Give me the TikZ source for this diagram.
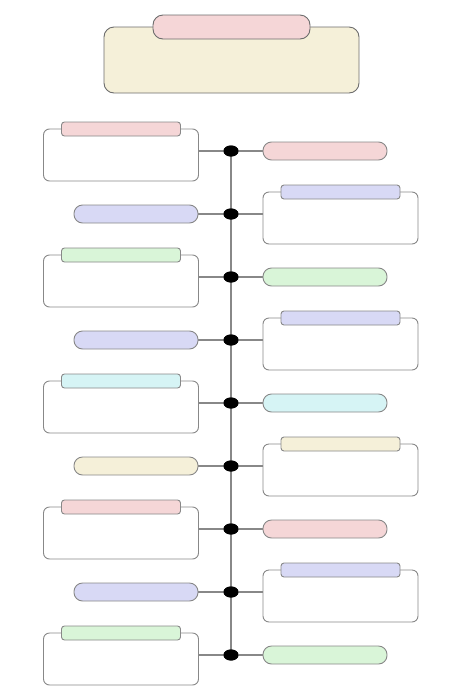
\documentclass[tikz,border=0pt]{standalone}
\usetikzlibrary{shapes.geometric}
\definecolor{cpink}{HTML}{F5D6D7}
\definecolor{cblue}{HTML}{D8D9F5}
\definecolor{cgreen}{HTML}{D9F5D8}
\definecolor{ccyan}{HTML}{D6F4F5}
\definecolor{ccream}{HTML}{F5F0D9}
\definecolor{cline}{HTML}{888888}
\begin{document}
\begin{tikzpicture}[x=1pt,y=-1pt,
  every node/.style={inner sep=0pt,outer sep=0pt},
  bigbox/.style={draw=cline,line width=0.9pt,fill=white,rounded corners=6pt,minimum width=155pt,minimum height=52pt},
  tabbox/.style={draw=cline,line width=0.9pt,rounded corners=3pt,minimum width=119pt,minimum height=14pt},
  pill/.style={draw=cline,line width=0.9pt,rounded corners=8.5pt,minimum width=124pt,minimum height=18pt},
  joint/.style={ellipse,fill=black,minimum width=15pt,minimum height=11pt},
  link/.style={draw=cline,line width=1.1pt}]
\useasboundingbox (0,0) rectangle (463,694);
% title
\node[draw=cline!80!black,line width=0.9pt,fill=ccream,rounded corners=10pt,minimum width=255pt,minimum height=66pt] (title) at (231.5,60) {};
\node[draw=cline!80!black,line width=0.9pt,fill=cpink,rounded corners=10pt,minimum width=157pt,minimum height=24pt] (titletab) at (title.north) {};
% spine
\coordinate (s1) at (231,151);
\coordinate (s9) at (231,655);
\draw[link] (s1) -- (s9);
% rows
\foreach \i/\side/\col in {1/L/cpink,2/R/cblue,3/L/cgreen,4/R/cblue,5/L/ccyan,6/R/ccream,7/L/cpink,8/R/cblue,9/L/cgreen}{
  \pgfmathsetmacro{\yy}{151+63*(\i-1)}
  \node[joint] (j\i) at (231,\yy) {};
  \if\side L
    \node[bigbox] (b\i) at (121,\yy+4) {};
    \node[tabbox,fill=\col] (t\i) at (b\i.north) {};
    \node[pill,fill=\col] (p\i) at (325,\yy) {};
    \draw[link] (b\i.east|-j\i) -- (j\i) -- (p\i.west);
  \else
    \node[pill,fill=\col] (p\i) at (136,\yy) {};
    \node[bigbox] (b\i) at (340.5,\yy+4) {};
    \node[tabbox,fill=\col] (t\i) at (b\i.north) {};
    \draw[link] (p\i.east) -- (j\i) -- (b\i.west|-j\i);
  \fi
  \node[joint] at (j\i) {};
}
\end{tikzpicture}
\end{document}
